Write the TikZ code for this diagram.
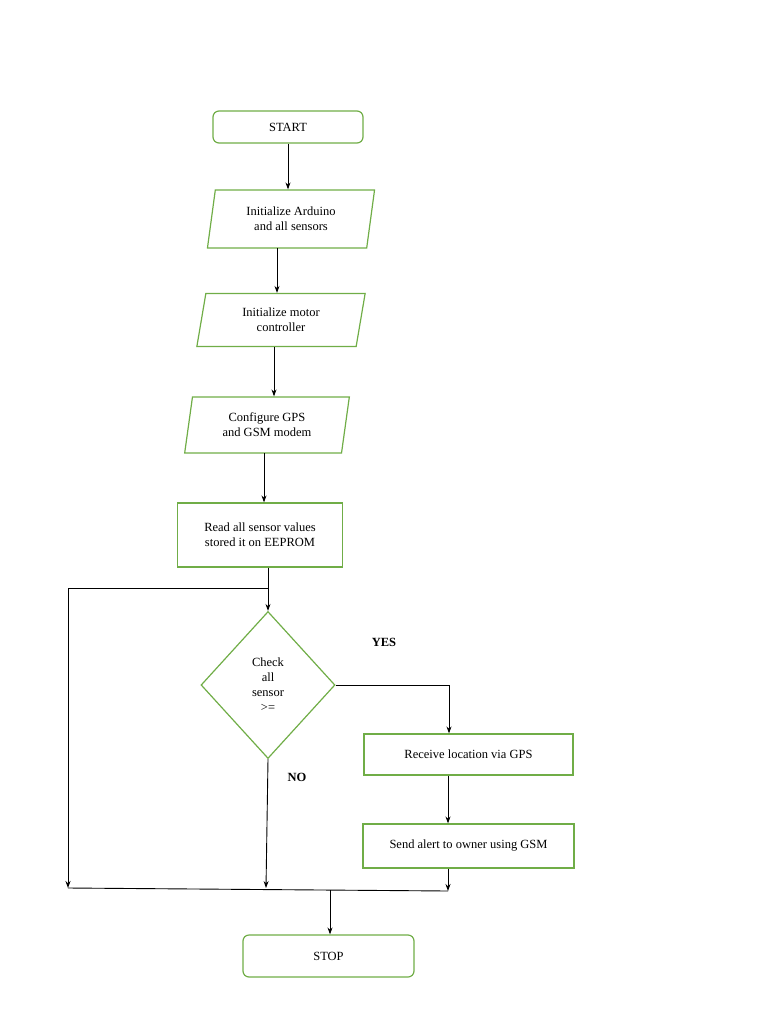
\documentclass[tikz,border=0pt]{standalone}
\usepackage{fontspec}
\setmainfont{Liberation Serif}
\usetikzlibrary{shapes.geometric,arrows.meta}
\definecolor{bgreen}{RGB}{112,173,71}
\begin{document}
\begin{tikzpicture}[x=1pt,y=-1pt,
  box/.style={draw=bgreen,line width=1.2pt,align=center,font=\fontsize{12.5}{15}\selectfont,inner sep=0pt},
  term/.style={box,rounded corners=6pt},
  para/.style={box,trapezium,trapezium left angle=79,trapezium right angle=101,trapezium stretches=true},
  arr/.style={-{Stealth[length=7pt,width=5pt]},line width=0.9pt},
  ln/.style={line width=0.9pt},
  lab/.style={font=\fontsize{12.5}{15}\selectfont\bfseries}]
\useasboundingbox (0,0) rectangle (768,1024);
\node[term,minimum width=150pt,minimum height=32pt] (start) at (288,127) {START};
\node[para,minimum width=168pt,minimum height=58pt] (p1) at (291,219) {Initialize Arduino\\and all sensors};
\node[para,minimum width=169pt,minimum height=53pt] (p2) at (281,320) {Initialize motor\\controller};
\node[para,minimum width=166pt,minimum height=56pt] (p3) at (267,425) {Configure GPS\\and GSM modem};
\node[box,minimum width=165pt,minimum height=64pt] (read) at (260,535) {Read all sensor values\\stored it on EEPROM};
\node[box,diamond,aspect=0.91,minimum width=134pt,minimum height=147pt] (chk) at (268,685) {Check\\all\\sensor\\>=};
\node[box,minimum width=209pt,minimum height=41pt] (gps) at (468.5,754.5) {Receive location via GPS};
\node[box,minimum width=211pt,minimum height=44pt] (gsm) at (468.5,846) {Send alert to owner using GSM};
\node[term,minimum width=171pt,minimum height=42pt] (stop) at (328.5,956) {STOP};
\node[lab] at (384,642) {YES};
\node[lab] at (297,777) {NO};
\coordinate (j) at (268,588);
\coordinate (jl) at (68,588);
\coordinate (bl) at (68,888);
\coordinate (bm) at (266,888);
\coordinate (br) at (448,891);
\coordinate (bs) at (330,890);
\coordinate (yr) at (449,685);
\draw[arr] (start.south) -- (start.south |- p1.north);
\draw[arr] (277,248) -- (p2.north -| 277,0);
\draw[arr] (274,347) -- (p3.north -| 274,0);
\draw[arr] (264,453) -- (read.north -| 264,0);
\draw[ln] (read.south -| j) -- (j) -- (jl);
\draw[arr] (jl) -- (bl);
\draw[arr] (j) -- (chk.north);
\draw[arr] (chk.south) -- (bm);
\draw[ln] (chk.east) -- (yr);
\draw[arr] (yr) -- (gps.north -| yr);
\draw[arr] (gps.south -| br) -- (gsm.north -| br);
\draw[arr] (gsm.south -| br) -- (br);
\draw[ln] (bl) -- (br);
\draw[arr] (bs) -- (stop.north -| bs);
\end{tikzpicture}
\end{document}
